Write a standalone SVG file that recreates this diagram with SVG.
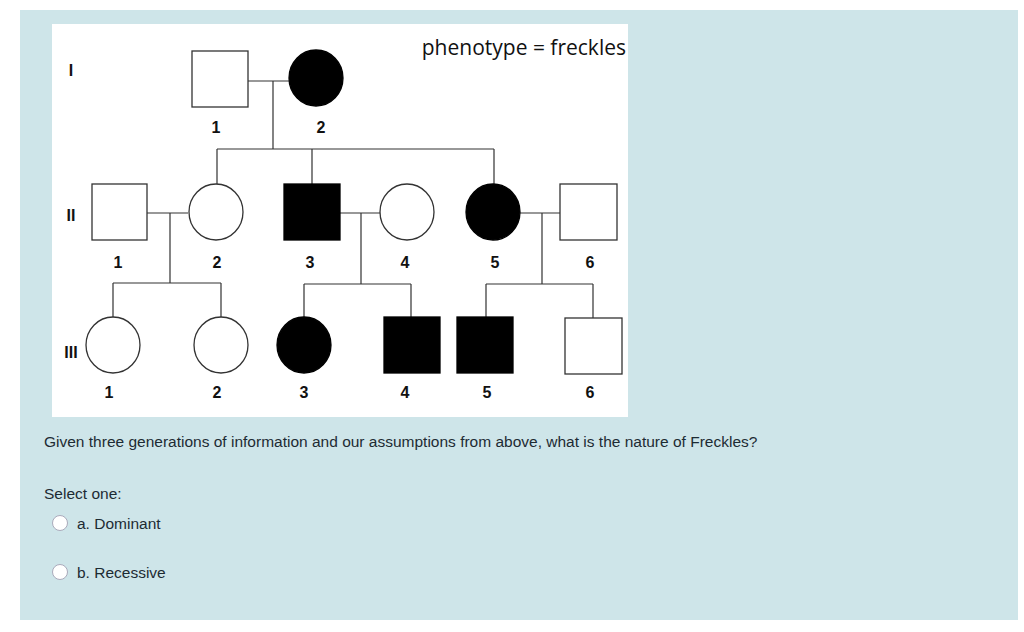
<svg xmlns="http://www.w3.org/2000/svg" width="1024" height="632" viewBox="0 0 1024 632">
<style>
.ln{stroke:#333;stroke-width:1.2;fill:none}
.o{fill:#fff;stroke:#333;stroke-width:1.3}
.f{fill:#000;stroke:#000;stroke-width:1.3}
.n{font-family:"Liberation Sans",Arial,sans-serif;font-weight:bold;font-size:16px;text-anchor:middle;fill:#111}
.r{font-family:"Liberation Sans",Arial,sans-serif;font-weight:bold;font-size:16px;text-anchor:middle;fill:#111}
.q{font-family:"Liberation Sans",Arial,sans-serif;font-size:15.5px;fill:#1d2b33}
</style>
<rect x="0" y="0" width="1024" height="632" fill="#fff"/>
<rect x="20" y="10" width="998" height="610" fill="#cee5e9"/>
<rect x="52" y="24" width="576" height="393" fill="#fff"/>
<text x="626" y="55" text-anchor="end" font-family="Open Sans,sans-serif" font-size="21" fill="#111">phenotype = freckles</text>
<text class="r" x="71" y="76">I</text>
<text class="r" x="71" y="221">II</text>
<text class="r" x="71" y="358">III</text>
<g id="connectors">
<path class="ln" d="M248 81H289M273 81V149M217 149H494M217 149V184M312 149V184M494 149V184"/>
<path class="ln" d="M147 213H188M170 213V283M113 283H221M113 283V317M221 283V317"/>
<path class="ln" d="M340 213H380M361 213V284M304 284H411M304 284V317M411 284V317"/>
<path class="ln" d="M520 213H560M542 213V284M486 284H593M486 284V317M593 284V318"/>
</g>
<g id="I-1"><rect class="o" x="192" y="51" width="56" height="56"/><text class="n" x="216" y="133">1</text></g>
<g id="I-2"><ellipse class="f" cx="316" cy="78" rx="27" ry="28"/><text class="n" x="321" y="133">2</text></g>
<g id="II-1"><rect class="o" x="92" y="184" width="55" height="56"/><text class="n" x="118" y="268">1</text></g>
<g id="II-2"><ellipse class="o" cx="216" cy="212" rx="27" ry="28"/><text class="n" x="217" y="268">2</text></g>
<g id="II-3"><rect class="f" x="284" y="184" width="56" height="56"/><text class="n" x="310" y="268">3</text></g>
<g id="II-4"><ellipse class="o" cx="407" cy="212" rx="27" ry="28"/><text class="n" x="405" y="268">4</text></g>
<g id="II-5"><ellipse class="f" cx="493" cy="212" rx="27" ry="28"/><text class="n" x="495" y="268">5</text></g>
<g id="II-6"><rect class="o" x="560" y="184" width="57" height="56"/><text class="n" x="590" y="268">6</text></g>
<g id="III-1"><ellipse class="o" cx="113" cy="345" rx="27" ry="28"/><text class="n" x="109" y="398">1</text></g>
<g id="III-2"><ellipse class="o" cx="221" cy="345" rx="27" ry="28"/><text class="n" x="217" y="398">2</text></g>
<g id="III-3"><ellipse class="f" cx="304" cy="345" rx="27" ry="28"/><text class="n" x="304" y="398">3</text></g>
<g id="III-4"><rect class="f" x="384" y="317" width="56" height="56"/><text class="n" x="405" y="398">4</text></g>
<g id="III-5"><rect class="f" x="457" y="317" width="56" height="56"/><text class="n" x="487" y="398">5</text></g>
<g id="III-6"><rect class="o" x="565" y="318" width="57" height="56"/><text class="n" x="590" y="398">6</text></g>
<text class="q" x="44" y="447">Given three generations of information and our assumptions from above, what is the nature of Freckles?</text>
<text class="q" x="44" y="499">Select one:</text>
<circle cx="60" cy="523" r="7.5" fill="#fff" stroke="#aab" stroke-width="1"/>
<text class="q" x="77" y="529">a. Dominant</text>
<circle cx="60" cy="572" r="7.5" fill="#fff" stroke="#aab" stroke-width="1"/>
<text class="q" x="77" y="578">b. Recessive</text>
</svg>
